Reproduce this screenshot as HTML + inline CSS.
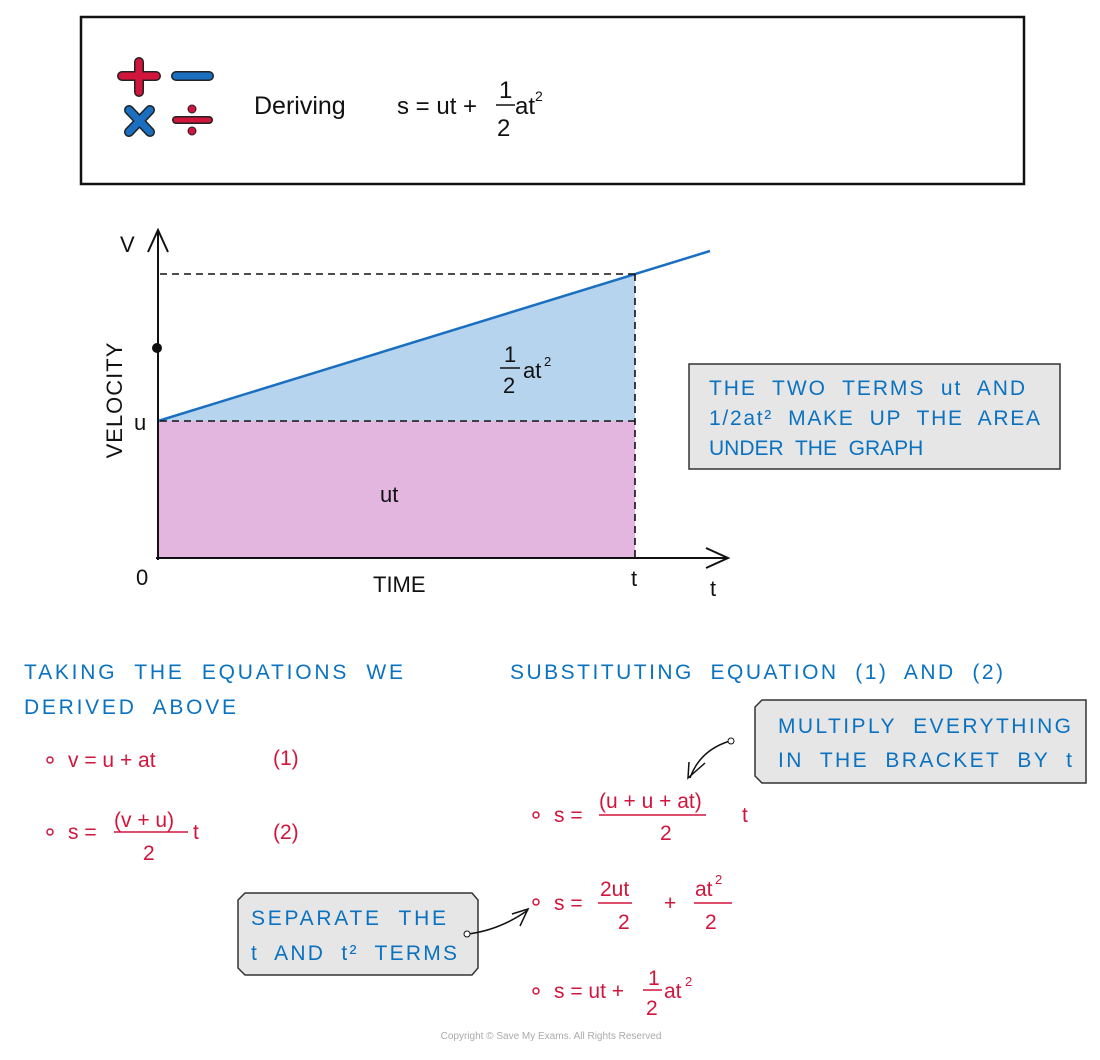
<!DOCTYPE html>
<html><head><meta charset="utf-8"><style>
body{margin:0;background:#fff;width:1100px;height:1055px;overflow:hidden}
svg text{font-family:"Liberation Sans",sans-serif;white-space:pre}
.b{fill:#0b72c0;font-size:21px}
.r{fill:#d2153c;font-size:21px}
.k{fill:#111;font-size:22px}
</style></head><body>
<svg width="1100" height="1055" viewBox="0 0 1100 1055" xmlns="http://www.w3.org/2000/svg">
<rect x="81" y="17" width="943" height="167" fill="#fff" stroke="#111" stroke-width="2.5"/>
<g stroke-linecap="round">
<line x1="122" y1="76" x2="156" y2="76" stroke="#222" stroke-width="10"/><line x1="139" y1="62" x2="139" y2="92" stroke="#222" stroke-width="10"/>
<line x1="122" y1="76" x2="156" y2="76" stroke="#d2153c" stroke-width="7"/><line x1="139" y1="62" x2="139" y2="92" stroke="#d2153c" stroke-width="7"/>
<line x1="176" y1="76" x2="209" y2="76" stroke="#222" stroke-width="10"/><line x1="176" y1="76" x2="209" y2="76" stroke="#1a6fc0" stroke-width="7"/>
<line x1="129" y1="110" x2="150" y2="132" stroke="#222" stroke-width="10"/><line x1="150" y1="110" x2="129" y2="132" stroke="#222" stroke-width="10"/>
<line x1="129" y1="110" x2="150" y2="132" stroke="#1a6fc0" stroke-width="7"/><line x1="150" y1="110" x2="129" y2="132" stroke="#1a6fc0" stroke-width="7"/>
<line x1="176" y1="120" x2="209" y2="120" stroke="#222" stroke-width="8"/><line x1="176" y1="120" x2="209" y2="120" stroke="#d2153c" stroke-width="5"/>
<circle cx="192" cy="109" r="4" fill="#d2153c" stroke="#222"/><circle cx="192" cy="131" r="4" fill="#d2153c" stroke="#222"/>
</g>
<text x="254" y="114" font-size="25" fill="#111">Deriving</text>
<text x="397" y="114" font-size="24" fill="#111">s = ut +</text>
<text x="499" y="98" font-size="24" fill="#111">1</text>
<line x1="496" y1="105" x2="515" y2="105" stroke="#111" stroke-width="1.5"/>
<text x="497" y="136" font-size="24" fill="#111">2</text>
<text x="515" y="114" font-size="24" fill="#111">at</text>
<text x="535" y="101" font-size="14" fill="#111">2</text>
<rect x="158" y="421" width="477" height="137" fill="#e2b6de"/>
<polygon points="158,421 635,274 635,421" fill="#b6d4ee"/>
<line x1="158" y1="421" x2="710" y2="251" stroke="#1a6fc0" stroke-width="2.5"/>
<g stroke="#111" stroke-width="1.6" stroke-dasharray="7,5" fill="none">
<line x1="160" y1="274" x2="635" y2="274"/><line x1="160" y1="421" x2="635" y2="421"/><line x1="635" y1="274" x2="635" y2="558"/>
</g>
<g stroke="#111" stroke-width="2" fill="none">
<line x1="158" y1="230" x2="158" y2="560"/><polyline points="148,252 158,230 168,252"/>
<line x1="156" y1="558" x2="728" y2="558"/><polyline points="706,548 728,558 706,568"/>
</g>
<circle cx="157" cy="348" r="5" fill="#111"/>
<text x="120" y="252" class="k">V</text>
<text transform="translate(122,400) rotate(-90)" text-anchor="middle" class="k" letter-spacing="1">VELOCITY</text>
<text x="134" y="430" class="k">u</text>
<text x="136" y="585" class="k">0</text>
<text x="373" y="592" class="k">TIME</text>
<text x="631" y="586" class="k">t</text>
<text x="710" y="596" class="k">t</text>
<text x="380" y="502" class="k">ut</text>
<text x="504" y="362" class="k">1</text><line x1="500" y1="368" x2="520" y2="368" stroke="#111" stroke-width="1.5"/><text x="503" y="393" class="k">2</text>
<text x="523" y="378" class="k">at</text><text x="544" y="366" font-size="13" fill="#111">2</text>
<rect x="689" y="364" width="371" height="105" fill="#e6e6e6" stroke="#333" stroke-width="1.5"/>
<text x="709" y="395" class="b" textLength="316" lengthAdjust="spacing">THE  TWO  TERMS  ut  AND</text>
<text x="709" y="425" class="b" textLength="331" lengthAdjust="spacing">1/2at²  MAKE  UP  THE  AREA</text>
<text x="709" y="455" class="b">UNDER  THE  GRAPH</text>
<text x="24" y="679" class="b" textLength="379" lengthAdjust="spacing">TAKING  THE  EQUATIONS  WE</text>
<text x="24" y="714" class="b" textLength="212" lengthAdjust="spacing">DERIVED  ABOVE</text>
<text x="510" y="679" class="b" textLength="493" lengthAdjust="spacing">SUBSTITUTING  EQUATION  (1)  AND  (2)</text>
<g fill="none" stroke="#d2153c" stroke-width="1.5">
<circle cx="50" cy="760" r="3"/><circle cx="50" cy="832" r="3"/><circle cx="536" cy="815" r="3"/><circle cx="536" cy="902" r="3"/><circle cx="536" cy="991" r="3"/>
</g>
<text x="68" y="767" class="r">v = u + at</text><text x="273" y="765" class="r">(1)</text>
<text x="68" y="839" class="r">s =</text><text x="114" y="827" class="r">(v + u)</text><line x1="114" y1="832" x2="188" y2="832" stroke="#d2153c" stroke-width="1.5"/><text x="143" y="860" class="r">2</text><text x="193" y="839" class="r">t</text>
<text x="273" y="839" class="r">(2)</text>
<text x="554" y="822" class="r">s =</text><text x="599" y="808" class="r">(u + u + at)</text><line x1="599" y1="815" x2="706" y2="815" stroke="#d2153c" stroke-width="1.5"/><text x="660" y="840" class="r">2</text><text x="742" y="822" class="r">t</text>
<text x="554" y="910" class="r">s =</text><text x="600" y="896" class="r">2ut</text><line x1="598" y1="903" x2="632" y2="903" stroke="#d2153c" stroke-width="1.5"/><text x="618" y="929" class="r">2</text>
<text x="664" y="910" class="r">+</text><text x="695" y="896" class="r">at</text><text x="715" y="884" font-size="13" fill="#d2153c">2</text><line x1="694" y1="903" x2="732" y2="903" stroke="#d2153c" stroke-width="1.5"/><text x="705" y="929" class="r">2</text>
<text x="554" y="998" class="r">s = ut +</text><text x="648" y="985" class="r">1</text><line x1="643" y1="990" x2="662" y2="990" stroke="#d2153c" stroke-width="1.5"/><text x="646" y="1015" class="r">2</text><text x="664" y="998" class="r">at</text><text x="685" y="986" font-size="13" fill="#d2153c">2</text>
<polygon points="762,700 1086,700 1086,783 762,783 755,776 755,707" fill="#e6e6e6" stroke="#333" stroke-width="1.5"/>
<text x="778" y="733" class="b" textLength="293" lengthAdjust="spacing">MULTIPLY  EVERYTHING</text>
<text x="778" y="767" class="b" textLength="294" lengthAdjust="spacing">IN  THE  BRACKET  BY  t</text>
<path d="M730,741 Q700,750 690,778" fill="none" stroke="#111" stroke-width="1.5"/><circle cx="731" cy="741" r="3" fill="#fff" stroke="#111"/>
<polyline points="689,762 688,778 705,763" fill="none" stroke="#111" stroke-width="1.5"/>
<polygon points="245,893 472,893 478,900 478,968 472,975 245,975 238,968 238,900" fill="#e6e6e6" stroke="#333" stroke-width="1.5"/>
<text x="251" y="925" class="b" textLength="195" lengthAdjust="spacing">SEPARATE  THE</text>
<text x="251" y="960" class="b" textLength="206" lengthAdjust="spacing">t  AND  t²  TERMS</text>
<path d="M468,934 Q500,930 528,910" fill="none" stroke="#111" stroke-width="1.5"/><circle cx="467" cy="934" r="3" fill="#fff" stroke="#111"/>
<polyline points="512,914 528,909 520,926" fill="none" stroke="#111" stroke-width="1.5"/>
<text x="551" y="1039" text-anchor="middle" font-size="10" fill="#aaa">Copyright © Save My Exams. All Rights Reserved</text>
</svg>
</body></html>
